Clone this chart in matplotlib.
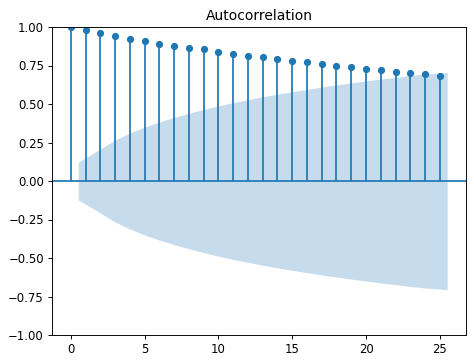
import matplotlib
matplotlib.use("Agg")
import matplotlib.pyplot as plt
import numpy as np

lags = list(range(26))
acf_values = [1.0, 0.978, 0.959, 0.942, 0.924, 0.909, 0.891, 0.877, 0.866, 0.856,
              0.840, 0.827, 0.812, 0.803, 0.790, 0.779, 0.771, 0.758, 0.749, 0.738,
              0.725, 0.721, 0.710, 0.703, 0.693, 0.684]
# confidence band half-widths for lags 1..25
band_half = [0.122, 0.208, 0.266, 0.312, 0.350, 0.384, 0.413, 0.440, 0.465, 0.488,
             0.509, 0.528, 0.547, 0.564, 0.580, 0.595, 0.610, 0.624, 0.637, 0.650,
             0.662, 0.673, 0.685, 0.695, 0.705]
xticks = [0, 5, 10, 15, 20, 25]
yticks = [-1.0, -0.75, -0.5, -0.25, 0.0, 0.25, 0.5, 0.75, 1.0]

s = 0.834
plt.rcParams.update({
    "font.size": 10 * s,
    "axes.linewidth": 0.8 * s,
    "xtick.major.size": 3.5 * s,
    "ytick.major.size": 3.5 * s,
    "xtick.major.width": 0.8 * s,
    "ytick.major.width": 0.8 * s,
    "xtick.major.pad": 3.5 * s,
    "ytick.major.pad": 3.5 * s,
})

fig = plt.figure(figsize=(4.74, 3.63), dpi=100)
ax = fig.add_axes([52 / 474, (363 - 335) / 363, 414 / 474, 308 / 363])

x = np.array(lags, dtype=float)
ax.vlines(x, [0], acf_values, color="C0", linewidth=1.5 * s)
ax.axhline(0, color="C0", linewidth=1.5 * s)
ax.plot(x, acf_values, marker="o", markersize=5 * s, linestyle="None", color="C0")

bx = x[1:].copy()
bx[0] -= 0.5
bx[-1] += 0.5
hw = np.array(band_half)
ax.fill_between(bx, -hw, hw, alpha=0.25, color="C0", linewidth=0)

ax.set_xlim(-1.275, 26.775)
ax.set_ylim(-1, 1)
ax.set_xticks(xticks)
ax.set_yticks(yticks)
ax.set_yticklabels([f"{v:.2f}".replace("-", "\u2212") for v in yticks])
ax.set_title("Autocorrelation", fontsize=12 * s, pad=6 * s)

fig.savefig("out.png", dpi=100)
